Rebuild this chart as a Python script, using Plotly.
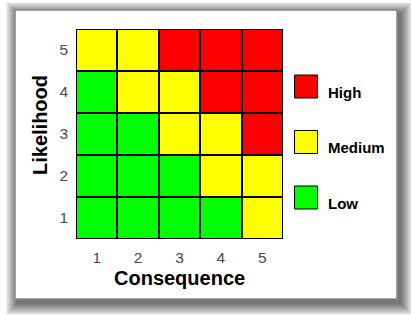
import plotly.graph_objects as go

# ---- data ----
consequence = [1, 2, 3, 4, 5]
likelihood = [1, 2, 3, 4, 5]
# risk level per likelihood row (bottom row first): 0=Low, 1=Medium, 2=High
risk_l1 = [0, 0, 0, 0, 1]
risk_l2 = [0, 0, 0, 1, 1]
risk_l3 = [0, 0, 1, 1, 2]
risk_l4 = [0, 1, 1, 2, 2]
risk_l5 = [1, 1, 2, 2, 2]
level_names = ["Low", "Medium", "High"]
level_colors = ["#00ff00", "#ffff00", "#ff0000"]

# ---- geometry (pixels) ----
W, H = 411, 319
ML, MR, MT, MB = 76, 15, 29, 80
PW, PH = W - ML - MR, H - MT - MB
grid_w = 207


def px_x(p):
    return (p - ML) / PW


def px_y(p):
    return (H - MB - p) / PH


z = [risk_l1, risk_l2, risk_l3, risk_l4, risk_l5]
n = len(level_colors)
cs = []
for i, c in enumerate(level_colors):
    cs.append([i / n, c])
    cs.append([(i + 1) / n, c])

fig = go.Figure()
fig.add_trace(go.Heatmap(
    x=consequence, y=likelihood, z=z,
    zmin=-0.5, zmax=n - 0.5, colorscale=cs, showscale=False,
    xgap=2, ygap=2, hoverinfo="skip",
))

# legend as its own small subplot
leg_x0 = 290
marker_px = 306
text_px = 326
spacing = 55.5
low_center_px = 197.5
y_bottom = -(H - MB - low_center_px) / spacing
y_top = y_bottom + PH / spacing
fig.add_trace(go.Scatter(
    x=[marker_px - leg_x0] * n, y=list(range(n)), mode="markers",
    marker=dict(symbol="square", size=23, color=level_colors,
                line=dict(color="black", width=1)),
    xaxis="x2", yaxis="y2", hoverinfo="skip", showlegend=False,
))
for i, name in enumerate(level_names):
    fig.add_annotation(x=text_px - leg_x0, y=i, xref="x2", yref="y2",
                       text=name, showarrow=False, xanchor="left",
                       yanchor="middle", yshift=-5.5,
                       font=dict(family="Liberation Sans, Arial", size=15,
                                 color="black", weight="bold"))

shapes = []
# drop shadow (offset down-right)
N = 12
for e in range(1, N + 1):
    shapes.append(dict(type="rect", xref="paper", yref="paper", layer="below",
                       x0=px_x(15 + 3 - e), x1=px_x(397 + 3 + e),
                       y0=px_y(299 + 4 + e), y1=px_y(10 + 4 - e),
                       fillcolor="rgba(0,0,0,0.06)", line=dict(width=0)))
# panel
shapes.append(dict(type="rect", xref="paper", yref="paper", layer="below",
                   x0=px_x(15), x1=px_x(397), y0=px_y(299), y1=px_y(10),
                   fillcolor="white", line=dict(color="#888888", width=1.5)))
# black grid background behind cells
shapes.append(dict(type="rect", xref="x", yref="y", layer="below",
                   x0=consequence[0] - 0.5, x1=consequence[-1] + 0.5,
                   y0=likelihood[0] - 0.5, y1=likelihood[-1] + 0.5,
                   fillcolor="black", line=dict(color="black", width=1.5)))

tickfont = dict(family="Liberation Sans, Arial", size=15.5, color="#4a4a4a")
titlefont = dict(family="Liberation Sans, Arial", size=20, color="black", weight="bold")

fig.add_annotation(text="Consequence", xref="paper", yref="paper",
                   x=px_x(179), y=px_y(278), showarrow=False,
                   xanchor="center", yanchor="middle", font=titlefont)
fig.add_annotation(text="Likelihood", xref="paper", yref="paper",
                   x=px_x(40), y=px_y(125), showarrow=False, textangle=-90,
                   xanchor="center", yanchor="middle", font=titlefont)

fig.update_layout(
    width=W, height=H,
    margin=dict(l=ML, r=MR, t=MT, b=MB, pad=0),
    paper_bgcolor="white", plot_bgcolor="rgba(0,0,0,0)",
    showlegend=False, shapes=shapes,
    xaxis=dict(domain=[0, grid_w / PW], range=[0.5, 5.5], tickvals=consequence,
               showgrid=False, zeroline=False, ticks="", tickfont=tickfont,
               ticklabelstandoff=7, fixedrange=True),
    yaxis=dict(domain=[0, 1], range=[0.5, 5.5], tickvals=likelihood,
               showgrid=False, zeroline=False, ticks="", tickfont=tickfont,
               ticklabelstandoff=7, fixedrange=True),
    xaxis2=dict(domain=[px_x(leg_x0), 1], range=[0, ML + PW - leg_x0],
                visible=False, anchor="y2"),
    yaxis2=dict(domain=[0, 1], range=[y_bottom, y_top], visible=False,
                anchor="x2"),
)

fig.write_html("out.html")
